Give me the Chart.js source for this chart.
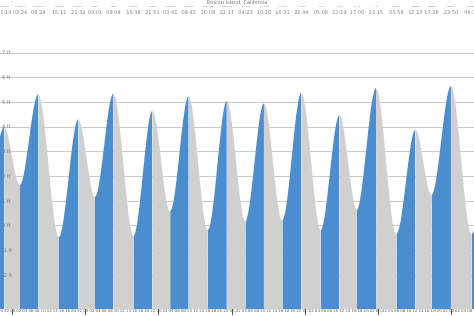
<!DOCTYPE html>
<html>
<head>
<meta charset="utf-8">
<script src="https://cdn.jsdelivr.net/npm/chart.js@4.4.1/dist/chart.umd.min.js"></script>
<style>
  html, body { margin: 0; padding: 0; background: #fff; }
  #wrap { width: 474px; height: 316px; }
</style>
</head>
<body>
<div id="wrap"><canvas id="tideChart"></canvas></div>
<script>
// high / low tides, Rincon Island (first and last are just off the edges)
var tideDays = ['Sun', 'Sun', 'Mon', 'Mon', 'Mon', 'Mon', 'Tue', 'Tue', 'Tue', 'Tue',
  'Wed', 'Wed', 'Wed', 'Wed', 'Thu', 'Thu', 'Thu', 'Thu', 'Fri', 'Fri', 'Fri', 'Fri',
  'Sat', 'Sat', 'Sat', 'Sat', 'Sun', 'Sun'];
var tideTimes = ['14:50', '21:14', '02:24', '08:24', '15:12', '21:32', '03:01', '09:04', '15:38', '21:51',
  '03:41', '09:45', '16:04', '22:17', '04:23', '10:28', '16:31', '22:44', '05:08', '11:14', '17:00', '23:15',
  '05:58', '12:10', '17:28', '23:50', '06:36', '12:50'];
var tideHeights = [-0.45, 4.0, 1.65, 5.33, -0.45, 4.32, 1.18, 5.37, -0.4, 4.67,
  0.6, 5.26, -0.16, 5.07, 0.17, 4.97, 0.24, 5.4, -0.19, 4.49, 0.65, 5.59,
  -0.32, 3.91, 1.26, 5.67, -0.32, 3.8];
var feetTicks = [-2, -1, 0, 1, 2, 3, 4, 5, 6, 7];

var dayNames = ['Sun', 'Mon', 'Tue', 'Wed', 'Thu', 'Fri', 'Sat'];
var xMin = 19.84, xMax = 175.4;   // hours from the first Sunday 00:00
var blue = '#4a8ed0';
var grey = '#d0d0d0';
var font = 'DejaVu Sans';

// turn day + time into hours since the first Sunday
var hours = [];
var week = 0, lastDay = 0;
for (var i = 0; i < tideDays.length; i++) {
  var d = dayNames.indexOf(tideDays[i]);
  if (d < lastDay) week++;
  lastDay = d;
  var hm = tideTimes[i].split(':');
  hours.push(week * 168 + d * 24 + (+hm[0]) + (+hm[1]) / 60);
}

var topLabels = {};
hours.forEach(function (h, i) { topLabels[h] = [tideDays[i], tideTimes[i]]; });

// edge labels may run off the canvas, like the original
function noSidePadding(s, h) {
  s.height = h;
  s.paddingLeft = 0;
  s.paddingRight = 0;
}

var ctx = document.getElementById('tideChart');

new Chart(ctx, {
  type: 'line',
  data: {
    datasets: [{
      data: hours.map(function (h, i) { return { x: h, y: tideHeights[i] }; }),
      cubicInterpolationMode: 'monotone',
      fill: 'start',
      backgroundColor: grey,
      borderColor: 'transparent',
      borderWidth: 0,
      pointRadius: 0,
      segment: {
        backgroundColor: function (c) { return c.p1.parsed.y > c.p0.parsed.y ? blue : grey; }
      }
    }]
  },
  options: {
    responsive: true,
    maintainAspectRatio: false,
    animation: false,
    layout: { padding: 0 },
    plugins: {
      legend: { display: false },
      tooltip: { enabled: false },
      title: {
        display: true,
        text: 'Rincon Island, California',
        color: '#777',
        font: { family: font, size: 5, weight: 'normal', lineHeight: 1.2 },
        padding: { top: 0, bottom: 0 }
      }
    },
    scales: {
      x: {
        type: 'linear',
        position: 'bottom',
        min: xMin,
        max: xMax,
        afterBuildTicks: function (s) {
          var t = [];
          for (var h = 20; h <= xMax; h += 2) t.push({ value: h });
          s.ticks = t;
        },
        afterFit: function (s) { noSidePadding(s, 7); },
        border: { display: false },
        grid: {
          drawOnChartArea: false,
          tickLength: 6,
          color: function (c) { return c.tick && c.tick.value % 24 === 0 ? '#555' : 'transparent'; }
        },
        ticks: {
          z: 1,
          mirror: true,          // keeps the labels from being clipped to the axis box
          autoSkip: false,
          maxRotation: 0,
          padding: -4.5,
          color: '#666',
          font: { family: font, size: 4 },
          callback: function (v) { return String(v % 24).padStart(2, '0'); }
        }
      },
      xTop: {
        type: 'linear',
        position: 'top',
        min: xMin,
        max: xMax,
        afterBuildTicks: function (s) {
          s.ticks = hours.filter(function (h) { return h >= xMin && h <= xMax; })
            .map(function (h) { return { value: h }; });
        },
        afterFit: function (s) { noSidePadding(s, 11); },
        border: { display: false },
        grid: { display: false, drawTicks: false },
        ticks: {
          autoSkip: false,
          maxRotation: 0,
          padding: 1,
          color: '#888',
          font: { family: font, size: 5, lineHeight: 1.4 },
          callback: function (v) { return topLabels[v]; }
        }
      },
      y: {
        min: -3.36,
        max: 8.46,
        afterBuildTicks: function (s) { s.ticks = feetTicks.map(function (v) { return { value: v }; }); },
        afterFit: function (s) { s.width = 0; },
        border: { display: false },
        grid: { color: '#cccccc', drawTicks: false },
        ticks: { display: false }
      },
      yLab: {
        position: 'left',
        min: -3.36,
        max: 8.46,
        afterBuildTicks: function (s) { s.ticks = feetTicks.map(function (v) { return { value: v }; }); },
        afterFit: function (s) { s.width = 0; },
        border: { display: false },
        grid: { display: false },
        ticks: {
          z: 1,
          mirror: true,
          padding: 2,
          color: '#777',
          font: { family: font, size: 5 },
          callback: function (v) { return v + ' ft'; }
        }
      }
    }
  }
});
</script>
</body>
</html>
